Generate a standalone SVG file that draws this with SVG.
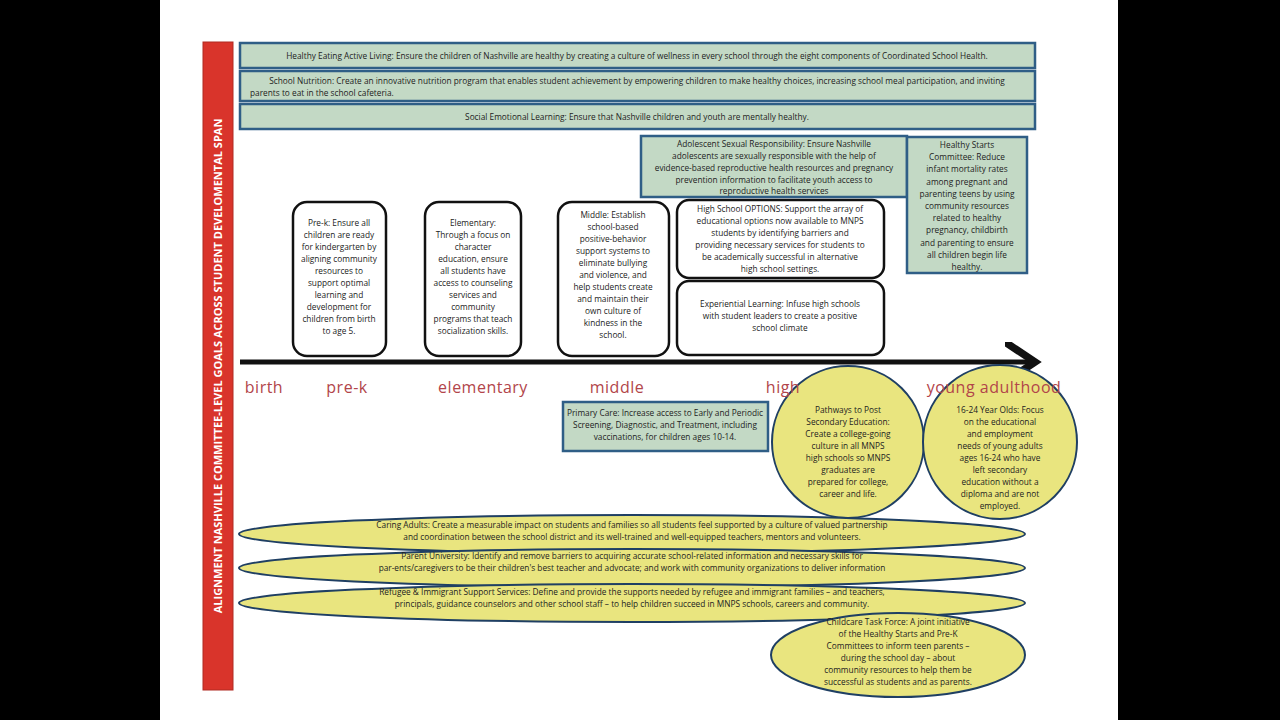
<svg xmlns="http://www.w3.org/2000/svg" width="1280" height="720" viewBox="0 0 1280 720">
<defs>
<style>
.t{font-family:"Open Sans","Liberation Sans",sans-serif;font-size:8.3px;fill:#222;text-anchor:middle}
.g{fill:#c3d9c5;stroke:#2f5e86;stroke-width:2.5}
.r{fill:#fff;stroke:#111;stroke-width:2.5}
.y{fill:#e9e57f;stroke:#1f3f63;stroke-width:2}
.lb{font-family:"Open Sans","Liberation Sans",sans-serif;font-size:16px;fill:#b2454a;text-anchor:middle;letter-spacing:0.5px}
</style>
<marker id="ah" markerWidth="8" markerHeight="8" refX="5" refY="4" orient="auto" markerUnits="strokeWidth"><path d="M0,0 L6,4 L0,8" fill="none" stroke="#111" stroke-width="1.5"/></marker>
</defs>
<rect width="1280" height="720" fill="#000"/>
<rect x="160" y="0" width="958" height="720" fill="#fff"/>
<g id="sidebar"><rect x="203" y="42" width="30" height="648" fill="#d9342b" stroke="#b02a22"/>
<text transform="translate(222,366) rotate(-90)" font-family="Open Sans,Liberation Sans,sans-serif" font-size="11" font-weight="bold" fill="#fff" text-anchor="middle">ALIGNMENT NASHVILLE COMMITTEE-LEVEL GOALS ACROSS STUDENT DEVELOMENTAL  SPAN</text></g>
<g id="connectors"><line x1="240" y1="362" x2="1030" y2="362" stroke="#111" stroke-width="5" marker-end="url(#ah)"/></g>
<g id="heal"><rect class="g" x="240" y="43" width="795" height="25"/><text class="t" x="637" y="59">Healthy Eating Active Living: Ensure the children of Nashville are healthy by creating a culture of wellness in every school through the eight components of Coordinated School Health.</text></g>
<g id="nutr"><rect class="g" x="240" y="71" width="795" height="30"/><text class="t" x="637" y="84">School Nutrition:  Create an innovative nutrition program that enables student achievement by empowering children to make healthy choices, increasing school meal participation, and inviting</text><text class="t" x="250" y="96" style="text-anchor:start">parents to eat in the school cafeteria.</text></g>
<g id="sel"><rect class="g" x="240" y="104" width="795" height="25"/><text class="t" x="637" y="120">Social Emotional Learning:  Ensure that Nashville children and youth are mentally healthy.</text></g>
<g id="adol"><rect class="g" x="641" y="136" width="266" height="61"/>
<text class="t" x="774" y="147">Adolescent Sexual Responsibility:  Ensure Nashville</text><text class="t" x="774" y="159">adolescents are sexually responsible with the help of</text><text class="t" x="774" y="171">evidence-based reproductive health resources and pregnancy</text><text class="t" x="774" y="183">prevention information to facilitate youth access to</text><text class="t" x="774" y="194">reproductive health services</text></g>
<g id="hs"><rect class="g" x="907" y="137" width="120" height="136"/>
<text class="t" x="967" y="148">Healthy Starts</text><text class="t" x="967" y="160">Committee: Reduce</text><text class="t" x="967" y="172">infant mortality rates</text><text class="t" x="967" y="185">among pregnant and</text><text class="t" x="967" y="197">parenting teens by using</text><text class="t" x="967" y="209">community resources</text><text class="t" x="967" y="221">related to healthy</text><text class="t" x="967" y="233">pregnancy, childbirth</text><text class="t" x="967" y="246">and parenting to ensure</text><text class="t" x="967" y="258">all children begin life</text><text class="t" x="967" y="270">healthy.</text></g>
<g id="prek"><rect class="r" x="293" y="202" width="93" height="154" rx="14"/>
<text class="t" x="339" y="226">Pre-k: Ensure all</text><text class="t" x="339" y="238">children are ready</text><text class="t" x="339" y="250">for kindergarten by</text><text class="t" x="339" y="262">aligning community</text><text class="t" x="339" y="274">resources to</text><text class="t" x="339" y="286">support optimal</text><text class="t" x="339" y="298">learning and</text><text class="t" x="339" y="310">development for</text><text class="t" x="339" y="322">children from birth</text><text class="t" x="339" y="334">to age 5.</text></g>
<g id="elem"><rect class="r" x="425" y="202" width="96" height="154" rx="14"/>
<text class="t" x="473" y="226">Elementary:</text><text class="t" x="473" y="238">Through a focus on</text><text class="t" x="473" y="250">character</text><text class="t" x="473" y="262">education, ensure</text><text class="t" x="473" y="274">all students have</text><text class="t" x="473" y="286">access to counseling</text><text class="t" x="473" y="298">services and</text><text class="t" x="473" y="310">community</text><text class="t" x="473" y="322">programs that teach</text><text class="t" x="473" y="334">socialization skills.</text></g>
<g id="mid"><rect class="r" x="558" y="202" width="111" height="154" rx="14"/>
<text class="t" x="613" y="218">Middle: Establish</text><text class="t" x="613" y="230">school-based</text><text class="t" x="613" y="242">positive-behavior</text><text class="t" x="613" y="254">support systems to</text><text class="t" x="613" y="266">eliminate bullying</text><text class="t" x="613" y="278">and violence, and</text><text class="t" x="613" y="290">help students create</text><text class="t" x="613" y="302">and maintain their</text><text class="t" x="613" y="314">own culture of</text><text class="t" x="613" y="326">kindness in the</text><text class="t" x="613" y="338">school.</text></g>
<g id="hso"><rect class="r" x="677" y="200" width="207" height="78" rx="12"/>
<text class="t" x="780" y="212">High School OPTIONS: Support the array of</text><text class="t" x="780" y="224">educational options now available to MNPS</text><text class="t" x="780" y="236">students by identifying barriers and</text><text class="t" x="780" y="248">providing necessary services for students to</text><text class="t" x="780" y="260">be academically successful in alternative</text><text class="t" x="780" y="272">high school settings.</text></g>
<g id="exp"><rect class="r" x="677" y="281" width="207" height="74" rx="12"/>
<text class="t" x="780" y="307">Experiential Learning: Infuse high schools</text><text class="t" x="780" y="319">with student leaders to create a positive</text><text class="t" x="780" y="331">school climate</text></g>
<g id="path"><circle class="y" cx="848" cy="442" r="76"/>
<text class="t" x="848" y="413">Pathways to Post</text><text class="t" x="848" y="425">Secondary Education:</text><text class="t" x="848" y="437">Create a college-going</text><text class="t" x="848" y="449">culture in all MNPS</text><text class="t" x="848" y="461">high schools so MNPS</text><text class="t" x="848" y="473">graduates are</text><text class="t" x="848" y="485">prepared for college,</text><text class="t" x="848" y="497">career and life.</text></g>
<g id="ya"><circle class="y" cx="1000" cy="442" r="77"/>
<text class="t" x="1000" y="413">16-24 Year Olds: Focus</text><text class="t" x="1000" y="425">on the educational</text><text class="t" x="1000" y="437">and employment</text><text class="t" x="1000" y="449">needs of young adults</text><text class="t" x="1000" y="461">ages 16-24 who have</text><text class="t" x="1000" y="473">left secondary</text><text class="t" x="1000" y="485">education without a</text><text class="t" x="1000" y="497">diploma and are not</text><text class="t" x="1000" y="509">employed.</text></g>
<g id="labels"><text class="lb" x="264" y="393">birth</text><text class="lb" x="347" y="393">pre-k</text><text class="lb" x="483" y="393">elementary</text><text class="lb" x="617" y="393">middle</text><text class="lb" x="783" y="393">high</text><text class="lb" x="994" y="393">young adulthood</text></g>
<g id="pc"><rect class="g" x="563" y="402" width="205" height="49"/>
<text class="t" x="665" y="416">Primary Care: Increase access to Early and Periodic</text><text class="t" x="665" y="428">Screening, Diagnostic, and Treatment, including</text><text class="t" x="665" y="440">vaccinations, for children ages 10-14.</text></g>
<g id="caring"><ellipse class="y" cx="632" cy="534" rx="393" ry="19"/>
<text class="t" x="632" y="528">Caring Adults: Create a measurable impact on students and families so all students feel supported by a culture of valued partnership</text><text class="t" x="632" y="540">and coordination between the school district and its well-trained and well-equipped teachers, mentors and volunteers.</text></g>
<g id="parent"><ellipse class="y" cx="632" cy="568" rx="393" ry="19"/>
<text class="t" x="632" y="559">Parent University: Identify and remove barriers to acquiring accurate school-related information and necessary skills for</text><text class="t" x="632" y="571">par-ents/caregivers to be their children's best teacher and advocate; and work with community organizations to deliver information</text></g>
<g id="ref"><ellipse class="y" cx="632" cy="603" rx="393" ry="19"/>
<text class="t" x="632" y="595">Refugee &amp; Immigrant Support Services:  Define and provide the supports needed by refugee and immigrant families – and teachers,</text><text class="t" x="632" y="607">principals, guidance counselors and other school staff – to help children succeed in MNPS schools, careers and community.</text></g>
<g id="child"><ellipse class="y" cx="898" cy="655" rx="127" ry="42"/>
<text class="t" x="898" y="625">Childcare Task Force: A joint initiative</text><text class="t" x="898" y="637">of the Healthy Starts and Pre-K</text><text class="t" x="898" y="649">Committees to inform teen parents –</text><text class="t" x="898" y="661">during the school day – about</text><text class="t" x="898" y="673">community resources to help them be</text><text class="t" x="898" y="685">successful as students and as parents.</text></g>
</svg>
